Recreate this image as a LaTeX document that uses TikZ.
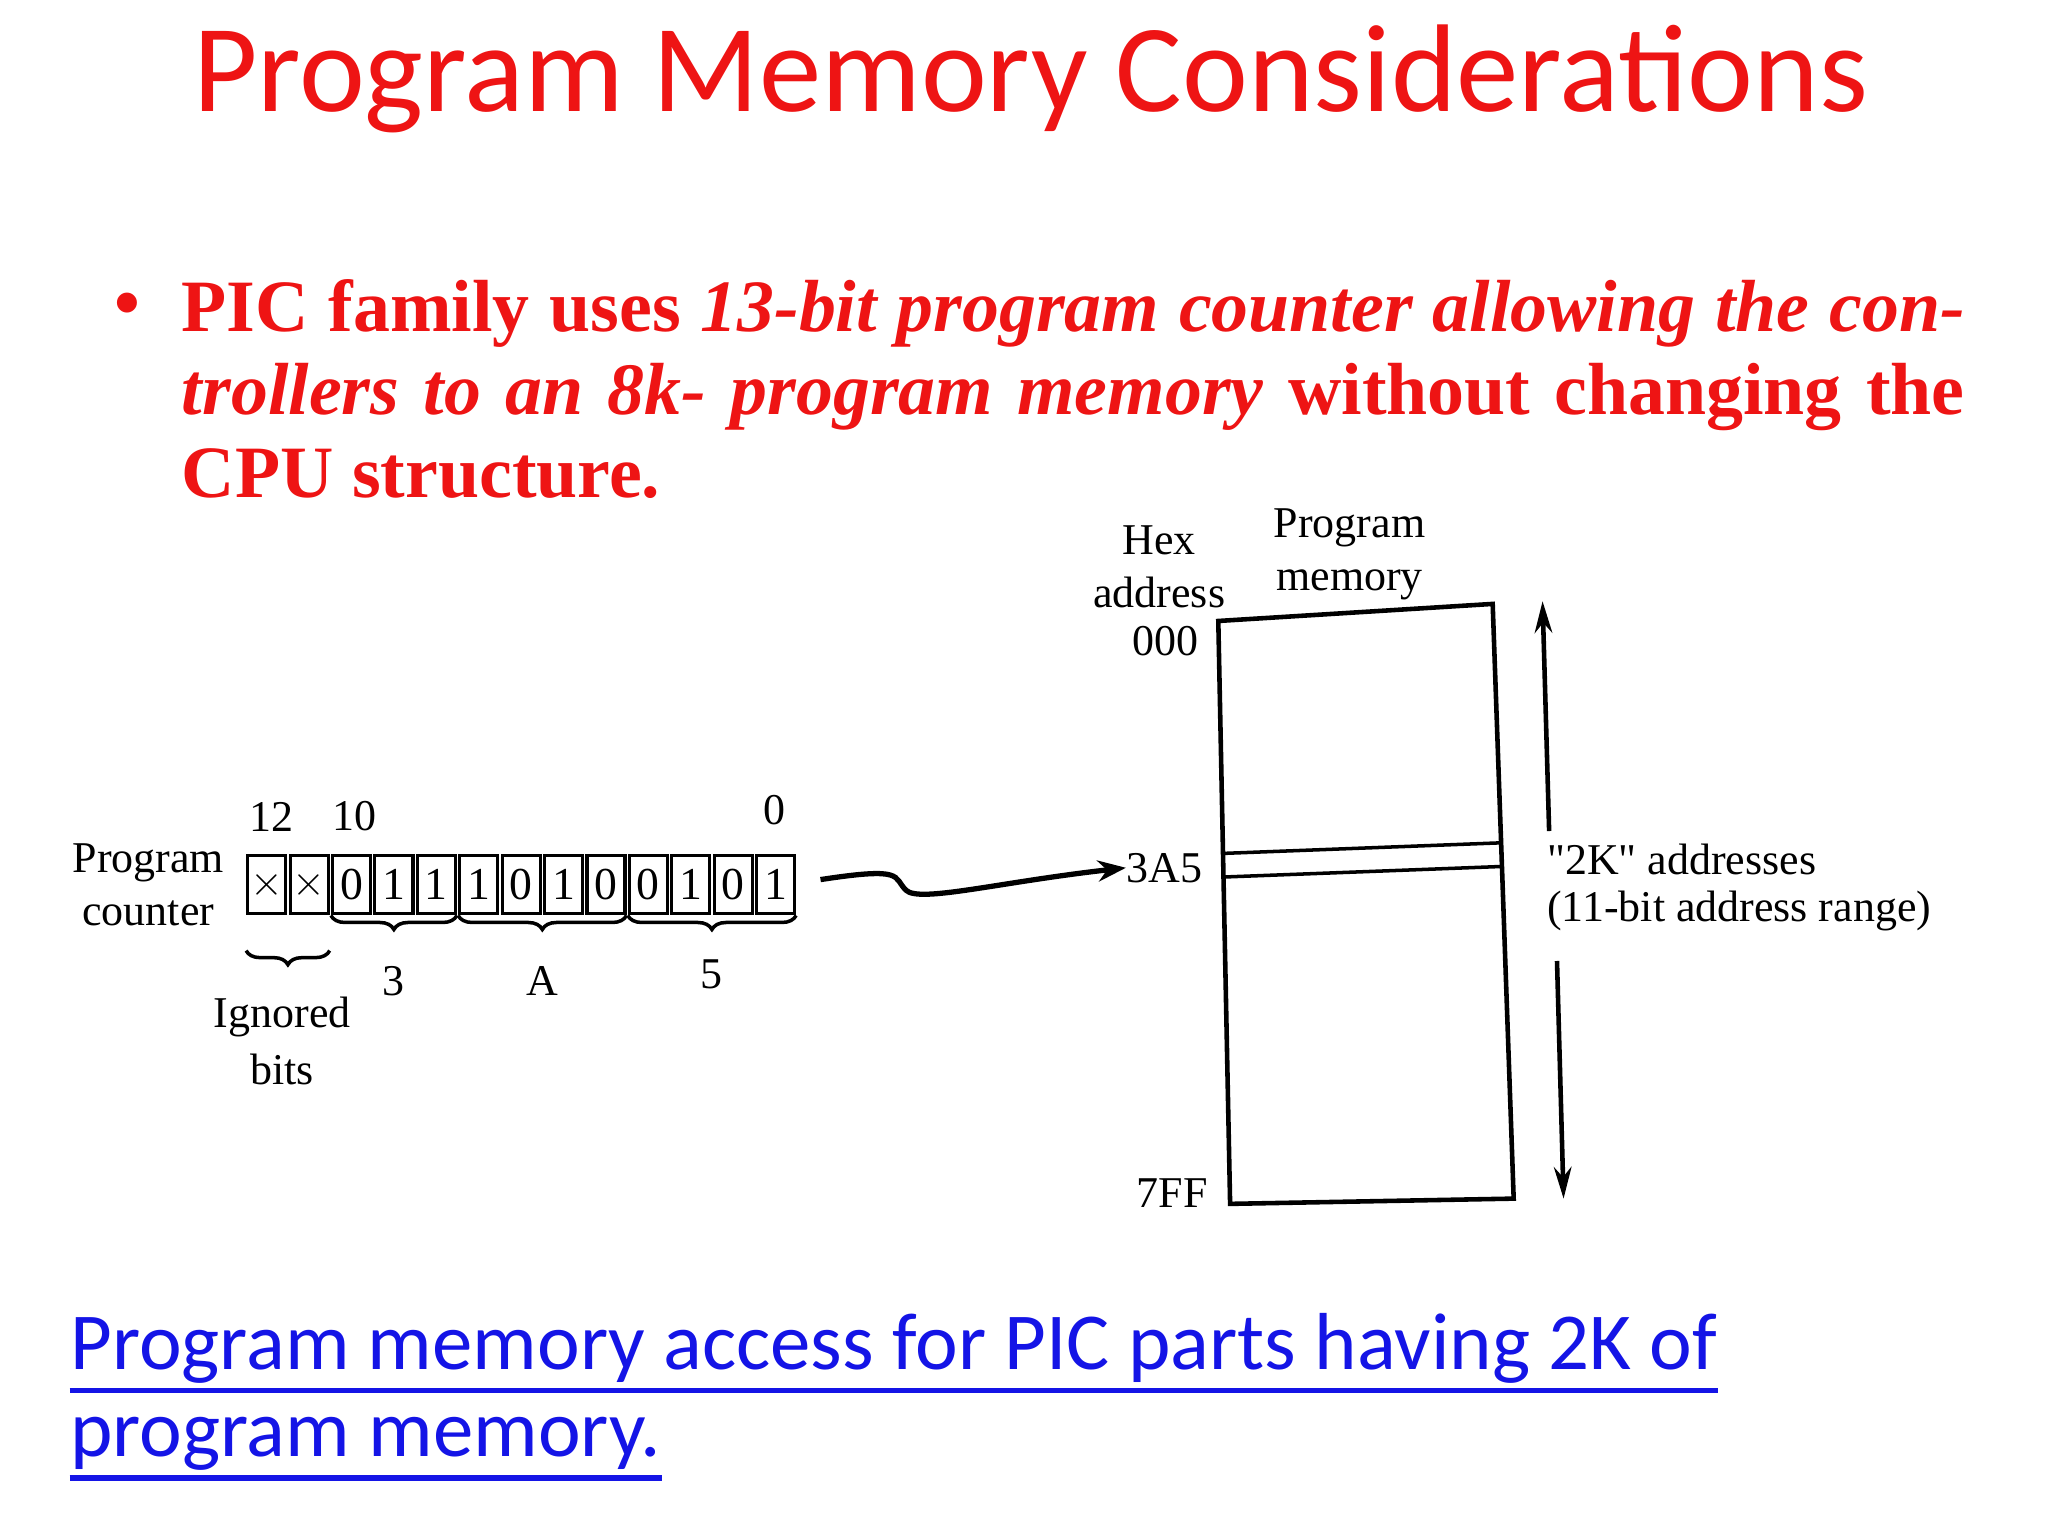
\documentclass[tikz,border=0pt]{standalone}
\usepackage{fontspec}
\setmainfont{Liberation Serif}
\newfontfamily\rawserif{Liberation Serif}[Ligatures=ResetAll]
\newfontfamily\calib{Carlito}
\usetikzlibrary{decorations.pathreplacing,arrows.meta}
\definecolor{tred}{RGB}{238,20,20}
\definecolor{lblue}{RGB}{20,20,230}
\tikzset{
  lbl/.style={font=\fontsize{12.5}{14}\selectfont,inner sep=0pt,align=center},
  cellbox/.style={draw,line width=0.9pt,minimum width=0.38cm,minimum height=0.58cm,inner sep=0pt,font=\fontsize{13}{13}\selectfont},
  brc/.style={decorate,decoration={brace,mirror,amplitude=4pt},line width=1pt}
}
\begin{document}
\begin{tikzpicture}[x=0.013128cm,y=-0.013128cm]
\useasboundingbox (0,0) rectangle (1560,1170);
\node[font=\calib\fontsize{35.5}{40}\selectfont,text=tred] (title) at (785,60) {Program Memory Considerations};
\node[font=\fontsize{21}{0.83cm}\selectfont\bfseries,text=tred,anchor=north west,text width=17.82cm,align=justify,inner sep=0pt] (bul) at (138,212)
{\hyphenpenalty=10000 PIC family uses \textit{13-bit program counter allowing the controllers to an 8k- program memory} without changing the CPU structure.};
\node[font=\fontsize{21}{22}\selectfont\bfseries,text=tred] (dot) at (97,236) {•};
% register
\foreach \v [count=\i] in {$\times$,$\times$,0,1,1,1,0,1,0,0,1,0,1}{
  \node[cellbox] (c\i) at ({187+16.15+32.3*(\i-1)},674) {\v};
}
\node[lbl] (n12) at (207,622) {12};
\node[lbl] (n10) at (270,622) {10};
\node[lbl] (n0) at (590,617) {0};
\node[lbl] (pc) at (113,674) {Program\\[1pt]counter};
\draw[brc] (c3.south west) -- (c5.south east) node[midway,below=14pt,lbl] (h3) {3};
\draw[brc] (c6.south west) -- (c9.south east) node[midway,below=14pt,lbl] (hA) {A};
\draw[brc] (c10.south west) -- (c13.south east) node[midway,below=12pt,lbl] (h5) {5};
\draw[brc] ([yshift=-10pt]c1.south west) -- ([yshift=-10pt]c2.south east);
\node[lbl] (ign) at (215,793) {Ignored\\[2pt]bits};
% memory
\coordinate (tl) at (928,473); \coordinate (tr) at (1137,460);
\coordinate (br) at (1153,913); \coordinate (bl) at (937,917);
\draw[line width=1.3pt] (tl) -- (tr) -- (br) -- (bl) -- cycle;
\coordinate (s1l) at (933,650); \coordinate (s1r) at (1143,642);
\coordinate (s2l) at (933,668); \coordinate (s2r) at (1144,660);
\draw[line width=1pt] (s1l) -- (s1r) (s2l) -- (s2r);
\node[lbl] (hex) at (883,432) {Hex\\[1pt]address};
\node[lbl] (z0) at (888,488) {000};
\node[lbl] (pm) at (1028,422) {Program\\[1pt]memory};
\node[lbl] (a3) at (887,661) {3A5};
\node[lbl] (a7) at (893,909) {7FF};
\coordinate (w0) at (625,670);
\draw[line width=1.5pt,-{Stealth[length=8pt]}] (w0) .. controls (690,660) and (680,668) .. (690,678) .. controls (700,688) and (760,672) .. (a3.west);
\coordinate (u1) at (1180,633); \coordinate (u2) at (1175,458);
\coordinate (d1) at (1186,732); \coordinate (d2) at (1191,913);
\draw[line width=1.3pt,-{Stealth[length=9pt,width=5pt]}] (u1) -- (u2);
\draw[line width=1.3pt,-{Stealth[length=9pt,width=5pt]}] (d1) -- (d2);
\node[lbl,anchor=west] (k2) at (1178,655) {{\rawserif "2K"} addresses};
\node[lbl,anchor=west] (k11) at (1178,694) {(11-bit address range)};
% caption
\node[font=\calib\fontsize{23}{30}\selectfont,text=lblue,anchor=west,inner sep=0pt] (cap1) at (53,1027) {Program memory access for PIC parts having 2K of};
\node[font=\calib\fontsize{23}{30}\selectfont,text=lblue,anchor=west,inner sep=0pt] (cap2) at (53,1100) {program memory.};
\draw[lblue,line width=1.5pt] ([yshift=-6pt]cap1.base west) -- ([yshift=-6pt]cap1.base east);
\draw[lblue,line width=1.5pt] ([yshift=-6pt]cap2.base west) -- ([yshift=-6pt]cap2.base east);
\end{tikzpicture}
\end{document}
